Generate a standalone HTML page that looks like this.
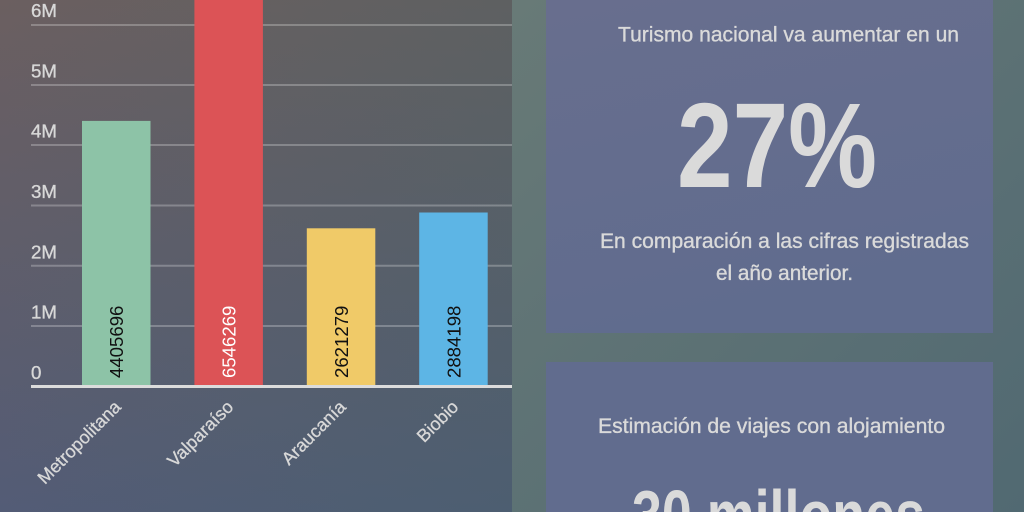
<!DOCTYPE html>
<html><head><meta charset="utf-8"><style>
html,body{margin:0;padding:0;width:1024px;height:512px;overflow:hidden;background:#5a6e74}
svg{display:block}
text{font-family:"Liberation Sans",Arial,sans-serif}
</style></head><body>
<svg width="1024" height="512" viewBox="0 0 1024 512" xmlns="http://www.w3.org/2000/svg">
<defs>
<linearGradient id="lv" x1="0" y1="0" x2="0" y2="1">
<stop offset="0" stop-color="#6b5f60"/><stop offset="1" stop-color="#535c76"/>
</linearGradient>
<linearGradient id="lh" x1="0" y1="0" x2="1" y2="0">
<stop offset="0" stop-color="#3c6464" stop-opacity="0"/><stop offset="1" stop-color="#3c6464" stop-opacity="0.28"/>
</linearGradient>
<linearGradient id="rg" x1="0" y1="0" x2="1" y2="1">
<stop offset="0" stop-color="#687a77"/><stop offset="1" stop-color="#516972"/>
</linearGradient>
<linearGradient id="cg" x1="0" y1="0" x2="0.3" y2="1">
<stop offset="0" stop-color="#686e8e"/><stop offset="1" stop-color="#606c8e"/>
</linearGradient>
<clipPath id="clip"><rect x="0" y="0" width="1024" height="512"/></clipPath>
</defs>
<g clip-path="url(#clip)">
<!-- backgrounds -->
<rect x="0" y="0" width="512" height="512" fill="url(#lv)"/>
<rect x="0" y="0" width="512" height="512" fill="url(#lh)"/>
<rect x="512" y="0" width="512" height="512" fill="url(#rg)"/>
<!-- cards -->
<rect x="546" y="0" width="447" height="333" fill="url(#cg)"/>
<rect x="546" y="362" width="447" height="150" fill="#616c8e"/>

<!-- gridlines -->
<g stroke="#ffffff" stroke-opacity="0.25" stroke-width="2">
<line x1="31" y1="25" x2="512" y2="25"/>
<line x1="31" y1="85" x2="512" y2="85"/>
<line x1="31" y1="145" x2="512" y2="145"/>
<line x1="31" y1="205.5" x2="512" y2="205.5"/>
<line x1="31" y1="265.7" x2="512" y2="265.7"/>
<line x1="31" y1="326" x2="512" y2="326"/>
</g>
<!-- axis labels -->
<g fill="#d8d8d8" stroke="#d8d8d8" stroke-width="0.35" font-size="18.7">
<text x="31" y="17">6M</text>
<text x="31" y="77.5">5M</text>
<text x="31" y="137.5">4M</text>
<text x="31" y="198">3M</text>
<text x="31" y="258.5">2M</text>
<text x="31" y="318.5">1M</text>
<text x="31" y="379">0</text>
</g>
<!-- bars -->
<rect x="82" y="120.9" width="68.5" height="265.1" fill="#8dc3a7"/>
<rect x="194.4" y="-10" width="68.5" height="396" fill="#dc5356"/>
<rect x="306.8" y="228.3" width="68.5" height="157.7" fill="#f0ca68"/>
<rect x="419.2" y="212.5" width="68.5" height="173.5" fill="#5db5e5"/>
<!-- baseline -->
<rect x="31" y="385" width="481" height="3" fill="#dcdcdc"/>
<!-- value labels -->
<g font-size="18.6">
<text transform="translate(123,378) rotate(-90)" fill="#111">4405696</text>
<text transform="translate(235.5,378) rotate(-90)" fill="#ffffff">6546269</text>
<text transform="translate(348,378) rotate(-90)" fill="#111">2621279</text>
<text transform="translate(460.5,378) rotate(-90)" fill="#111">2884198</text>
</g>
<!-- category labels -->
<g font-size="18" fill="#d8d8d8" stroke="#d8d8d8" stroke-width="0.3" text-anchor="end">
<text transform="translate(122,408) rotate(-45)">Metropolitana</text>
<text transform="translate(234.5,408) rotate(-45)">Valparaíso</text>
<text transform="translate(347,408) rotate(-45)">Araucanía</text>
<text transform="translate(459.5,408) rotate(-45)">Biobio</text>
</g>

<!-- right panel text -->
<g fill="#dadada">
<g stroke="#dadada" stroke-width="0.35">
<text x="618" y="41.5" font-size="21" textLength="341" lengthAdjust="spacingAndGlyphs">Turismo nacional va aumentar en un</text>
<text x="600" y="248" font-size="21" textLength="369" lengthAdjust="spacingAndGlyphs">En comparación a las cifras registradas</text>
<text x="716" y="280" font-size="21" textLength="137" lengthAdjust="spacingAndGlyphs">el año anterior.</text>
<text x="598" y="433" font-size="21" textLength="347" lengthAdjust="spacingAndGlyphs">Estimación de viajes con alojamiento</text>
</g>
<text x="677" y="187" font-size="121" font-weight="bold" textLength="200" lengthAdjust="spacingAndGlyphs">27%</text>
<text x="632" y="539" font-size="70" font-weight="bold" textLength="293" lengthAdjust="spacingAndGlyphs">30 millones</text>
</g>
</g>
</svg>
</body></html>
